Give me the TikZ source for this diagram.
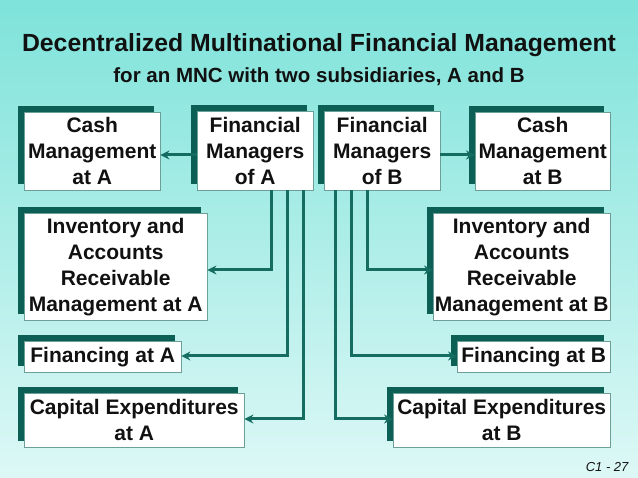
\documentclass[tikz,border=0pt]{standalone}
\usepackage{fontspec}
\setmainfont{Liberation Sans}
\usetikzlibrary{arrows.meta}
\definecolor{bgtop}{HTML}{7EE3DA}
\definecolor{bgbot}{HTML}{DDF8F6}
\definecolor{shad}{HTML}{0B5F55}
\definecolor{arr}{HTML}{156C61}
\definecolor{txt}{HTML}{111111}
\tikzset{
  bx/.style={draw=shad!60, line width=0.4pt, fill=white, font=\bfseries\fontsize{21}{26}\selectfont, text=txt, align=center, inner sep=0pt},
  con/.style={draw=arr, line width=3pt, -{Stealth[length=9pt,width=9pt]}},
}
\newcommand{\mybox}[6]{% name, x1,y1,x2,y2, text
  \fill[shad] (#2-6,#3-6) rectangle (#4-6,#5-6);
  \node[bx, minimum width={(#4-#2)*1pt}, minimum height={(#5-#3)*1pt}, anchor=north west] (#1) at (#2,#3) {#6};
}
\begin{document}
\begin{tikzpicture}[x=1pt,y=-1pt]
\shade[top color=bgtop, bottom color=bgbot] (0,0) rectangle (638,478);
\useasboundingbox (0,0) rectangle (638,478);
\node[font=\bfseries\fontsize{24.8}{28}\selectfont, text=txt] (t1) at (319,45) {Decentralized Multinational Financial Management};
\node[font=\bfseries\fontsize{20.5}{24}\selectfont, text=txt] (t2) at (319,77) {for an MNC with two subsidiaries, A and B};
\mybox{ca}{24}{112}{160}{190}{Cash\\Management\\at A}
\mybox{fa}{197}{111}{313}{190}{Financial\\Managers\\of A}
\mybox{fb}{324}{111}{440}{190}{Financial\\Managers\\of B}
\mybox{cb}{475}{112}{610}{190}{Cash\\Management\\at B}
\mybox{ia}{24}{213}{207}{320}{Inventory and\\Accounts\\Receivable\\Management at A}
\mybox{ib}{433}{213}{610}{320}{Inventory and\\Accounts\\Receivable\\Management at B}
\mybox{na}{24}{341}{181}{372}{Financing at A}
\mybox{nb}{457}{341}{610}{372}{Financing at B}
\mybox{xa}{24}{393}{244}{447}{Capital Expenditures\\at A}
\mybox{xb}{393}{393}{610}{447}{Capital Expenditures\\at B}
\draw[con] (fa.west |- 0,155) -- (ca.east |- 0,155);
\draw[con] (fb.east |- 0,155) -- (cb.west |- 0,155);
\draw[con] (fa.south -| 271,0) |- (ia.east |- 0,270);
\draw[con] (fa.south -| 287,0) |- (na.east |- 0,356);
\draw[con] (fa.south -| 303,0) |- (xa.east |- 0,419);
\draw[con] (fb.south -| 335,0) |- (xb.west |- 0,419);
\draw[con] (fb.south -| 351,0) |- (nb.west |- 0,356);
\draw[con] (fb.south -| 367,0) |- (ib.west |- 0,270);
\node[font=\itshape\fontsize{13}{15}\selectfont, text=txt, anchor=east] (pg) at (632,467) {C1 - 27};
\end{tikzpicture}
\end{document}
